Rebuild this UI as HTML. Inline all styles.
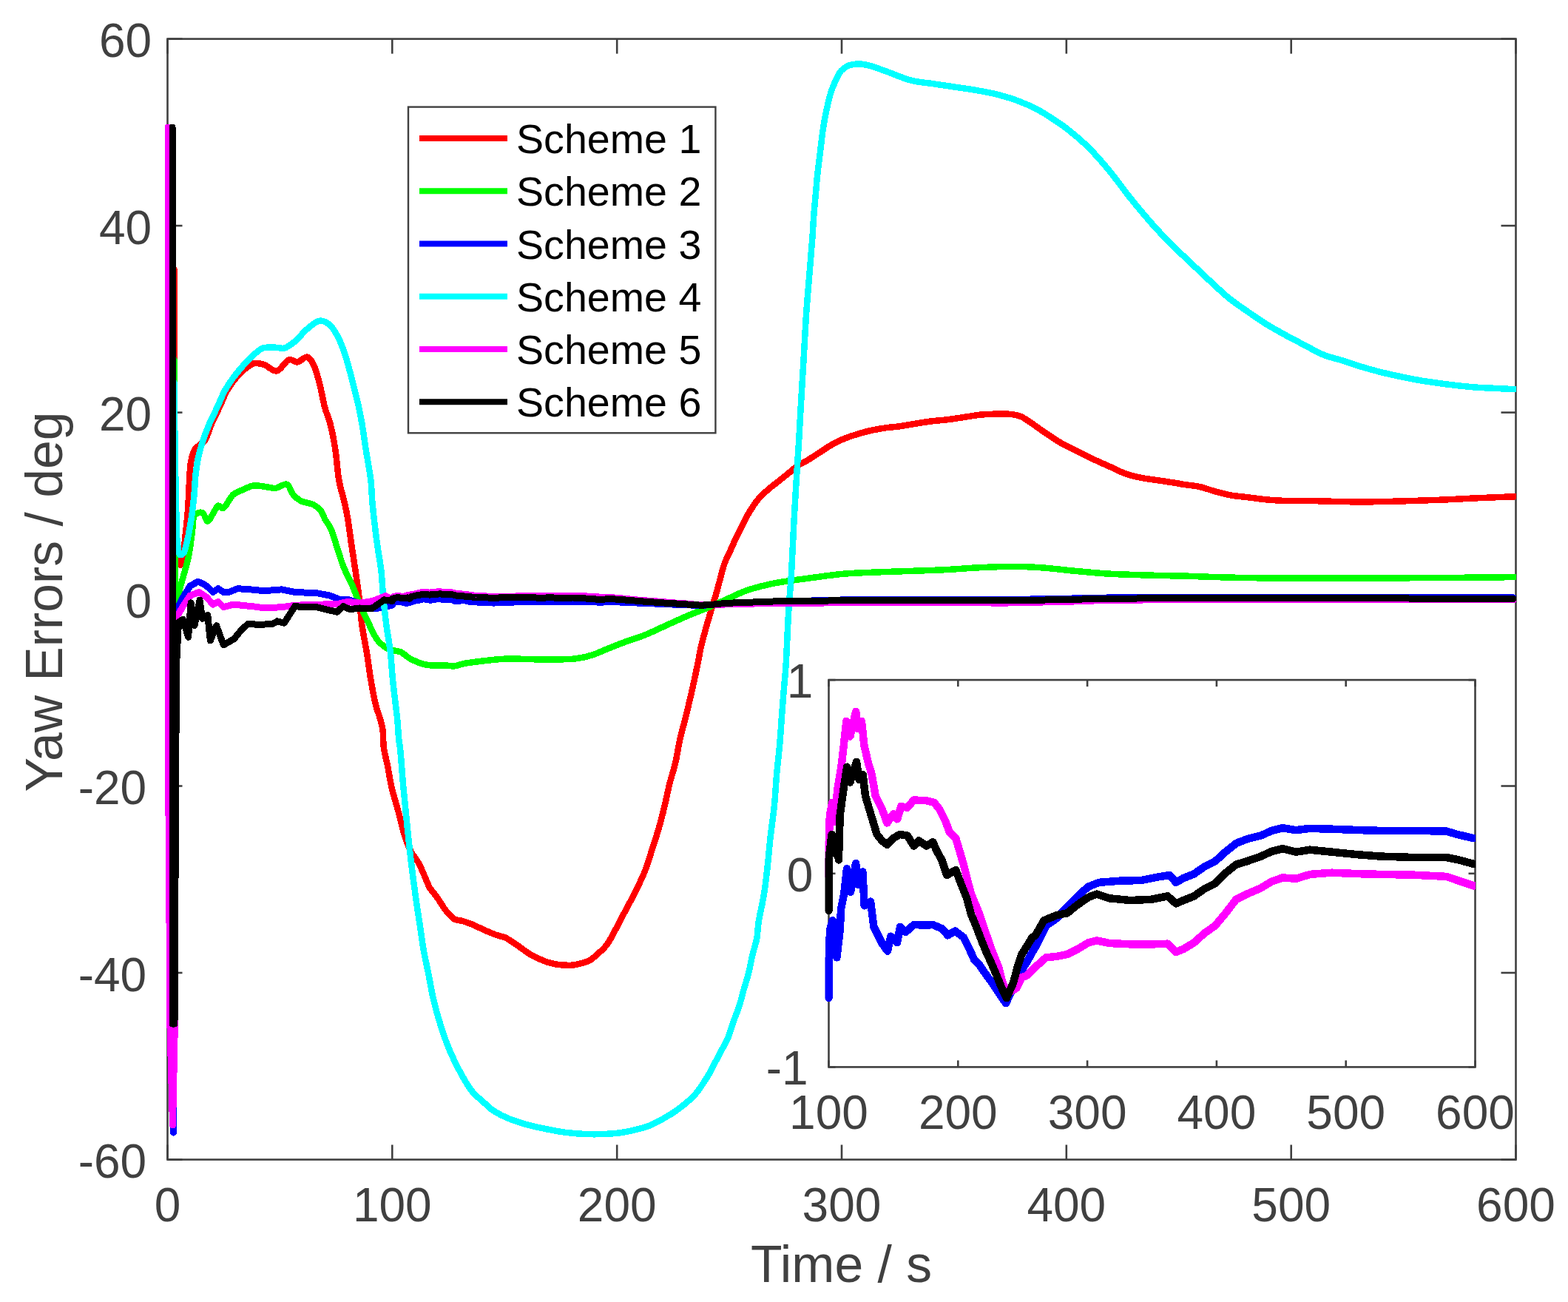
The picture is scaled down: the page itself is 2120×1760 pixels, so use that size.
<!DOCTYPE html>
<html><head><meta charset="utf-8"><title>Yaw Errors</title>
<style>html,body{margin:0;padding:0;background:#fff;}body{width:2120px;height:1760px;overflow:hidden;}svg{display:block;}</style>
</head><body>
<svg width="2120" height="1760" viewBox="0 0 2120 1760">
<rect x="0" y="0" width="2120" height="1760" fill="#fff"/>
<defs><clipPath id="cm"><rect x="220.5" y="46.6" width="1829.5" height="1526.9"/></clipPath><clipPath id="ci"><rect x="1115.5" y="914.1" width="879.5" height="533.3000000000001"/></clipPath></defs>
<g stroke="#404040" stroke-width="2.6" fill="none">
<rect x="226.5" y="52.6" width="1823.0" height="1514.9"/>
<line x1="226.5" y1="1567.5" x2="226.5" y2="1547.5"/>
<line x1="226.5" y1="52.6" x2="226.5" y2="72.6"/>
<line x1="530.3" y1="1567.5" x2="530.3" y2="1547.5"/>
<line x1="530.3" y1="52.6" x2="530.3" y2="72.6"/>
<line x1="834.2" y1="1567.5" x2="834.2" y2="1547.5"/>
<line x1="834.2" y1="52.6" x2="834.2" y2="72.6"/>
<line x1="1138.0" y1="1567.5" x2="1138.0" y2="1547.5"/>
<line x1="1138.0" y1="52.6" x2="1138.0" y2="72.6"/>
<line x1="1441.8" y1="1567.5" x2="1441.8" y2="1547.5"/>
<line x1="1441.8" y1="52.6" x2="1441.8" y2="72.6"/>
<line x1="1745.7" y1="1567.5" x2="1745.7" y2="1547.5"/>
<line x1="1745.7" y1="52.6" x2="1745.7" y2="72.6"/>
<line x1="2049.5" y1="1567.5" x2="2049.5" y2="1547.5"/>
<line x1="2049.5" y1="52.6" x2="2049.5" y2="72.6"/>
<line x1="226.5" y1="1567.5" x2="246.5" y2="1567.5"/>
<line x1="2049.5" y1="1567.5" x2="2029.5" y2="1567.5"/>
<line x1="226.5" y1="1315.0" x2="246.5" y2="1315.0"/>
<line x1="2049.5" y1="1315.0" x2="2029.5" y2="1315.0"/>
<line x1="226.5" y1="1062.5" x2="246.5" y2="1062.5"/>
<line x1="2049.5" y1="1062.5" x2="2029.5" y2="1062.5"/>
<line x1="226.5" y1="810.1" x2="246.5" y2="810.1"/>
<line x1="2049.5" y1="810.1" x2="2029.5" y2="810.1"/>
<line x1="226.5" y1="557.6" x2="246.5" y2="557.6"/>
<line x1="2049.5" y1="557.6" x2="2029.5" y2="557.6"/>
<line x1="226.5" y1="305.1" x2="246.5" y2="305.1"/>
<line x1="2049.5" y1="305.1" x2="2029.5" y2="305.1"/>
<line x1="226.5" y1="52.6" x2="246.5" y2="52.6"/>
<line x1="2049.5" y1="52.6" x2="2029.5" y2="52.6"/>
</g>
<g clip-path="url(#cm)">
<path d="M235.5,364.0 C235.7,442.7 235.5,534.5 236.0,600.0 C236.3,646.7 236.3,692.8 237.5,720.0 C238.1,734.1 238.4,744.0 240.0,752.0 C241.0,757.0 242.8,764.0 244.0,764.0 C245.1,764.0 246.1,758.8 247.0,755.0 C248.4,748.6 249.0,738.4 250.1,728.7 C251.4,716.7 253.2,701.2 254.1,688.5 C254.9,677.2 255.0,667.1 255.7,656.4 C256.4,645.7 256.5,633.1 258.1,624.3 C259.3,617.9 260.8,611.9 263.0,608.2 C264.4,605.8 266.0,604.9 268.0,603.0 C270.6,600.6 274.5,598.7 277.2,595.0 C280.9,589.8 282.7,580.5 285.9,573.2 C289.2,565.6 293.2,557.9 296.8,550.3 C300.4,542.7 303.0,534.7 307.3,527.4 C311.7,519.9 317.9,511.6 323.1,506.0 C327.1,501.7 331.3,498.6 335.0,496.0 C337.8,494.0 339.8,491.9 343.0,491.2 C346.9,490.4 352.1,491.5 356.8,492.9 C362.4,494.6 368.5,502.2 374.0,501.5 C380.0,500.7 385.9,487.2 391.2,486.1 C394.9,485.3 398.0,489.8 401.6,489.5 C405.9,489.2 411.5,481.8 415.3,482.6 C418.8,483.3 421.4,488.3 423.9,492.9 C427.6,499.6 430.0,511.0 432.5,520.5 C435.2,530.5 436.8,542.3 439.4,551.5 C441.5,559.1 444.2,564.3 446.3,572.1 C448.9,582.0 451.3,594.3 453.2,606.5 C455.4,620.0 456.0,636.5 458.4,649.6 C460.4,660.7 463.8,670.9 465.9,680.0 C467.6,687.3 468.7,692.4 470.0,700.0 C471.7,710.0 473.3,723.2 475.0,735.0 C476.8,747.1 478.8,759.5 480.6,771.7 C482.4,783.9 484.2,796.2 485.7,808.4 C487.2,820.6 487.7,832.9 489.4,845.1 C491.1,857.4 493.8,869.6 495.8,881.8 C497.8,894.0 499.2,906.3 501.3,918.5 C503.4,930.8 506.3,946.4 508.6,955.2 C509.9,960.3 511.2,962.6 512.5,967.0 C514.1,972.3 516.1,978.4 517.2,985.0 C518.5,992.9 517.8,1003.1 519.0,1011.6 C520.1,1019.7 522.4,1026.8 524.0,1035.0 C525.8,1044.0 527.0,1053.5 529.3,1063.3 C531.8,1074.3 535.6,1086.2 538.7,1097.7 C541.8,1109.2 544.6,1122.3 547.9,1132.1 C550.5,1139.7 552.8,1146.0 556.0,1152.0 C558.9,1157.4 562.6,1160.4 566.0,1166.5 C571.0,1175.4 578.5,1196.3 581.4,1201.0 C582.2,1202.4 582.5,1202.3 583.4,1203.4 C585.2,1205.6 588.6,1209.8 591.4,1213.7 C595.0,1218.6 598.8,1225.9 602.9,1230.9 C606.5,1235.3 610.1,1240.0 614.3,1242.3 C617.8,1244.3 621.9,1244.0 625.7,1245.1 C629.5,1246.2 633.3,1247.6 637.1,1249.1 C641.0,1250.6 644.8,1252.6 648.6,1254.3 C652.4,1256.0 656.2,1257.8 660.0,1259.4 C663.8,1261.0 667.6,1262.7 671.4,1264.0 C675.2,1265.3 679.2,1265.8 682.9,1267.4 C686.8,1269.1 690.5,1271.8 694.3,1274.3 C698.1,1276.8 701.9,1279.6 705.7,1282.3 C709.5,1285.0 713.2,1288.0 717.1,1290.3 C720.8,1292.5 724.7,1294.3 728.6,1296.0 C732.4,1297.7 736.2,1299.4 740.0,1300.6 C743.8,1301.8 747.6,1302.7 751.4,1303.4 C755.2,1304.1 759.1,1304.4 762.9,1304.6 C766.7,1304.8 770.5,1305.0 774.3,1304.6 C778.1,1304.2 781.9,1303.3 785.7,1302.3 C789.5,1301.2 793.5,1300.3 797.1,1298.3 C801.1,1296.1 804.9,1292.4 808.6,1289.1 C812.5,1285.6 816.5,1282.2 820.0,1277.7 C823.9,1272.7 826.9,1266.2 830.4,1260.0 C834.1,1253.2 837.5,1246.3 841.6,1238.6 C846.4,1229.5 852.3,1218.8 857.3,1208.8 C862.2,1198.9 867.3,1189.0 871.4,1178.9 C875.4,1169.1 878.2,1159.0 881.4,1149.1 C884.6,1139.2 887.9,1129.3 890.8,1119.3 C893.7,1109.4 896.2,1099.5 898.6,1089.5 C901.0,1079.6 902.8,1069.5 905.3,1059.6 C907.8,1049.6 911.2,1039.8 913.5,1029.8 C915.8,1019.9 917.0,1009.9 919.2,1000.0 C921.4,990.0 924.2,980.7 926.8,970.2 C929.7,958.6 932.8,945.8 935.6,933.5 C938.4,921.3 941.2,907.7 943.5,896.7 C945.3,887.7 946.2,881.2 948.3,872.2 C950.9,861.1 954.9,847.6 958.4,835.4 C961.9,823.1 965.9,811.0 969.4,798.7 C972.9,786.5 975.9,772.1 979.5,762.0 C982.2,754.5 985.2,749.2 988.0,743.0 C990.7,737.0 993.7,730.1 996.0,725.3 C997.6,722.0 998.6,720.4 1000.3,717.0 C1003.0,711.7 1006.8,703.2 1010.7,696.4 C1014.8,689.4 1019.5,681.7 1024.4,675.7 C1028.7,670.4 1033.5,666.2 1038.2,662.0 C1042.7,658.0 1047.4,654.7 1052.0,651.0 C1056.6,647.3 1061.1,643.7 1065.7,640.0 C1070.3,636.3 1074.8,632.1 1079.5,628.9 C1084.0,625.9 1088.8,624.0 1093.3,621.3 C1097.9,618.5 1101.7,615.7 1107.0,612.4 C1114.2,607.9 1123.2,601.2 1132.8,596.7 C1143.7,591.5 1158.0,587.0 1169.5,583.9 C1179.3,581.2 1188.8,579.7 1197.1,578.4 C1203.9,577.4 1209.3,577.3 1215.7,576.4 C1222.7,575.4 1230.3,573.9 1237.6,572.7 C1244.9,571.5 1252.2,570.3 1259.5,569.4 C1266.8,568.5 1274.1,568.1 1281.4,567.2 C1288.7,566.3 1296.0,565.1 1303.3,564.0 C1310.6,562.9 1317.9,561.4 1325.2,560.7 C1332.5,560.0 1339.9,559.7 1347.2,559.6 C1354.5,559.5 1363.1,559.4 1369.1,560.2 C1373.4,560.8 1376.5,561.5 1380.0,562.9 C1383.8,564.4 1386.8,566.7 1391.0,569.4 C1397.1,573.4 1405.6,579.8 1412.9,584.8 C1420.2,589.7 1427.4,594.7 1434.8,599.0 C1442.0,603.1 1449.4,606.3 1456.7,610.0 C1464.0,613.6 1471.3,617.4 1478.6,620.9 C1485.9,624.4 1493.2,627.5 1500.5,630.8 C1507.8,634.1 1515.0,638.0 1522.4,640.6 C1529.6,643.1 1537.0,644.6 1544.3,646.1 C1551.6,647.6 1558.9,648.3 1566.2,649.4 C1573.5,650.5 1581.9,651.7 1588.1,652.7 C1592.7,653.4 1595.4,654.1 1600.0,654.8 C1606.2,655.8 1614.7,656.4 1621.9,658.0 C1629.3,659.6 1636.5,662.6 1643.8,664.6 C1651.1,666.5 1658.4,668.4 1665.7,669.7 C1673.0,671.0 1680.3,671.4 1687.6,672.3 C1694.9,673.2 1702.2,674.4 1709.5,675.1 C1716.8,675.8 1722.8,676.3 1731.4,676.7 C1743.5,677.2 1760.6,676.9 1775.2,677.1 C1789.8,677.4 1804.5,678.0 1819.1,678.2 C1833.7,678.4 1848.3,678.4 1862.9,678.2 C1877.5,678.0 1892.1,677.5 1906.7,677.1 C1921.3,676.7 1935.9,676.2 1950.5,675.6 C1965.1,675.0 1978.9,674.1 1994.3,673.4 C2011.5,672.6 2030.8,671.9 2049.1,671.2" fill="none" stroke="#ff0000" stroke-width="8.5" stroke-linejoin="round" stroke-linecap="round" shape-rendering="crispEdges"/>
<path d="M235.5,486.0 C235.7,557.3 235.5,642.1 236.0,700.0 C236.3,739.6 236.4,778.7 237.5,800.0 C238.0,810.0 238.7,822.0 239.5,822.0 C240.2,822.0 240.6,808.2 242.0,801.0 C243.5,793.2 246.3,784.9 248.5,776.9 C250.6,768.9 253.1,761.5 254.9,752.8 C256.9,742.9 258.3,730.6 259.7,720.6 C260.9,712.0 260.3,700.6 262.9,696.5 C264.2,694.5 266.0,693.8 267.8,693.3 C269.7,692.7 272.3,692.2 274.2,693.3 C276.9,694.9 278.2,704.5 280.6,704.6 C283.0,704.7 286.1,696.9 288.6,693.3 C290.9,690.0 292.6,684.3 295.1,683.7 C297.0,683.2 299.2,687.4 301.5,686.9 C305.6,685.9 310.3,672.8 315.5,668.5 C319.7,665.0 324.7,663.6 329.3,661.6 C333.8,659.6 338.1,657.1 343.0,656.5 C348.3,655.8 355.0,657.6 360.2,658.2 C364.6,658.7 368.1,660.3 372.3,659.9 C377.2,659.4 383.8,653.3 387.8,654.7 C391.8,656.1 393.1,664.7 396.4,668.5 C399.4,672.0 402.6,674.9 406.7,677.1 C411.5,679.7 419.2,679.8 423.9,682.3 C427.8,684.4 430.8,686.8 433.4,690.0 C436.3,693.5 437.6,698.9 440.0,703.0 C442.3,707.0 445.0,709.7 447.2,714.4 C450.4,721.1 452.9,731.6 455.8,740.2 C458.7,748.8 461.0,757.6 464.4,766.1 C467.9,774.8 472.7,783.2 476.5,791.9 C480.2,800.4 483.1,809.2 486.8,817.7 C490.5,826.4 494.7,835.3 498.8,843.5 C502.7,851.3 505.9,860.0 510.9,865.9 C515.3,871.1 520.9,875.3 526.4,877.9 C531.3,880.2 537.3,879.3 541.9,881.4 C546.4,883.4 549.1,887.4 553.9,890.0 C560.0,893.3 568.4,897.0 576.3,898.6 C584.5,900.3 595.1,899.1 602.1,899.5 C606.9,899.7 610.1,900.7 614.2,900.3 C618.7,899.9 622.6,897.9 627.9,896.9 C635.1,895.5 645.2,894.4 653.8,893.4 C662.4,892.4 671.5,891.2 679.6,890.8 C686.8,890.4 692.6,890.6 700.0,890.7 C708.7,890.8 719.1,891.3 728.6,891.4 C738.1,891.5 748.3,891.6 757.1,891.4 C764.8,891.2 771.5,891.2 778.6,890.3 C785.8,889.4 793.0,887.9 800.0,885.7 C807.2,883.5 814.3,879.9 821.4,877.1 C828.6,874.2 835.2,871.5 842.9,868.6 C851.7,865.3 862.0,862.4 871.4,858.6 C881.0,854.8 890.5,850.0 900.0,845.7 C909.5,841.4 919.0,837.0 928.6,832.9 C938.1,828.9 947.6,825.4 957.1,821.4 C966.7,817.3 976.7,812.6 985.7,808.6 C993.7,805.0 999.8,801.6 1008.4,798.6 C1018.9,794.9 1031.6,791.6 1044.6,788.9 C1059.4,785.8 1076.7,783.9 1092.8,781.7 C1108.9,779.5 1124.8,777.1 1141.0,775.7 C1157.2,774.3 1174.1,774.0 1190.0,773.3 C1205.0,772.7 1219.2,772.3 1233.8,771.8 C1248.4,771.3 1263.0,770.9 1277.6,770.2 C1292.2,769.5 1306.3,768.1 1321.4,767.4 C1337.6,766.6 1356.3,765.7 1371.8,765.8 C1385.2,765.9 1396.2,766.5 1409.1,767.4 C1423.1,768.4 1438.3,770.4 1452.9,771.8 C1467.5,773.1 1482.1,774.6 1496.7,775.5 C1511.3,776.4 1525.9,776.7 1540.5,777.2 C1555.1,777.7 1573.4,778.1 1584.3,778.3 C1590.8,778.4 1593.5,778.3 1600.0,778.5 C1610.9,778.8 1627.7,779.6 1643.8,780.1 C1663.5,780.7 1684.8,781.2 1709.5,781.4 C1741.4,781.7 1782.6,781.4 1819.1,781.4 C1855.6,781.4 1891.2,781.4 1928.6,781.2 C1967.8,781.0 2008.9,780.5 2049.1,780.1" fill="none" stroke="#00ff00" stroke-width="8.5" stroke-linejoin="round" stroke-linecap="round" shape-rendering="crispEdges"/>
<polyline points="234.0,840.0 234.5,1531.0 234.6,1400.0 235.8,900.0 239.1,823.1 247.4,807.6 257.0,792.1 267.7,786.2 276.0,789.8 282.0,794.5 287.9,800.5 295.0,795.7 302.2,800.5 309.3,800.5 321.2,795.7 339.1,796.9 357.0,798.7 380.8,796.9 398.6,800.5 428.4,801.7 446.2,805.2 458.1,810.0 470.0,810.0 476.0,812.4 486.8,816.0 507.5,822.9 524.7,819.4 530.3,818.2 530.3,815.9 533.1,813.7 539.4,813.1 549.3,815.5 556.8,813.7 559.2,812.4 566.7,811.3 572.9,809.7 581.6,811.3 594.0,809.4 599.0,810.8 610.1,809.9 613.9,812.2 628.7,811.9 636.2,813.5 646.1,814.1 656.2,814.6 668.5,815.1 676.0,814.1 690.9,814.6 698.2,813.5 710.8,813.9 730.6,813.4 760.5,813.4 775.2,813.4 797.7,813.7 810.0,814.1 827.4,813.8 847.4,814.2 859.7,814.9 872.1,815.7 884.6,816.0 899.5,816.6 914.3,817.2 929.2,817.8 939.2,818.2 946.6,818.5 964.0,817.5 983.8,816.4 996.3,815.8 1008.7,815.2 1016.2,814.8 1041.0,813.5 1065.9,813.0 1090.7,812.2 1115.4,811.5 1140.3,810.9 1165.1,810.6 1214.8,810.5 1264.5,810.5 1301.7,810.3 1331.5,810.2 1346.4,810.6 1363.8,810.4 1388.6,810.1 1413.5,809.6 1438.4,809.3 1463.0,808.6 1487.9,808.1 1512.8,807.8 1546.0,807.6 1571.5,807.3 1597.2,807.1 1628.0,807.2 1661.4,807.1 1712.6,807.2 1776.8,807.2 1828.1,807.3 1905.1,807.3 1982.1,807.3 2007.8,807.5 2046.2,807.8" fill="none" stroke="#0000ff" stroke-width="9" stroke-linejoin="round" stroke-linecap="round" shape-rendering="crispEdges"/>
<path d="M235.5,517.0 C235.8,544.7 236.1,572.6 236.5,600.0 C236.9,626.9 237.3,655.8 238.0,680.0 C238.6,700.0 238.3,722.5 240.0,735.0 C240.9,741.6 241.4,748.9 243.5,750.0 C244.7,750.6 246.8,749.4 248.0,748.0 C249.9,745.9 250.4,741.5 251.7,736.7 C253.8,728.8 256.3,715.5 258.1,704.6 C259.9,693.3 261.3,680.9 262.4,670.0 C263.4,660.2 263.5,650.8 264.5,642.0 C265.4,634.0 266.3,626.7 267.9,619.1 C269.5,611.4 271.7,603.8 274.2,596.2 C276.7,588.5 279.7,580.8 282.9,573.2 C286.2,565.5 290.2,557.9 293.8,550.3 C297.4,542.7 300.1,534.9 304.3,527.4 C308.8,519.5 314.2,511.9 320.1,504.4 C326.3,496.5 336.1,486.1 340.8,481.5 C343.0,479.3 344.0,478.6 346.0,477.0 C348.6,475.0 351.4,471.9 355.1,470.6 C359.7,469.0 367.1,469.6 372.3,469.7 C376.7,469.7 380.3,471.6 384.3,470.6 C388.9,469.5 393.5,465.7 398.1,462.0 C403.8,457.5 409.3,449.7 415.3,444.8 C420.8,440.3 427.0,434.1 432.5,433.6 C437.2,433.2 442.3,436.2 446.3,439.6 C451.2,443.8 455.0,451.7 458.4,458.5 C461.9,465.5 464.3,472.8 467.0,480.9 C470.1,490.3 472.8,501.3 475.6,511.9 C478.5,523.1 481.8,535.6 484.2,546.3 C486.3,555.5 487.7,562.9 489.3,572.1 C491.2,582.7 492.6,594.4 494.5,606.5 C496.6,620.1 499.9,636.5 501.4,649.6 C502.7,660.6 502.4,668.4 503.5,680.0 C505.0,695.7 507.7,718.5 509.9,735.0 C511.7,748.5 514.0,759.4 515.4,771.7 C516.8,783.9 517.1,796.2 518.3,808.4 C519.5,820.6 520.8,832.9 522.4,845.1 C524.0,857.3 526.5,869.5 527.9,881.8 C529.3,894.0 529.8,906.3 531.0,918.5 C532.2,930.7 534.0,944.8 535.2,955.2 C536.1,962.8 536.8,968.0 537.5,975.0 C538.2,982.8 538.6,993.3 539.3,1000.0 C539.8,1004.6 540.4,1006.3 541.0,1011.6 C542.3,1022.7 543.7,1046.1 545.3,1063.3 C546.9,1080.5 548.6,1097.7 550.4,1114.9 C552.2,1132.1 553.9,1149.3 556.0,1166.5 C558.1,1183.7 560.7,1203.1 562.8,1218.2 C564.5,1230.1 566.0,1239.2 567.6,1250.0 C569.3,1261.1 570.7,1272.6 572.7,1283.9 C574.7,1295.2 577.3,1306.4 579.5,1317.7 C581.8,1329.0 583.5,1340.4 586.2,1351.6 C588.9,1363.0 592.0,1374.3 595.6,1385.5 C599.2,1396.8 603.0,1408.2 607.7,1419.3 C612.5,1430.7 618.5,1443.0 624.3,1453.2 C629.3,1462.1 634.7,1471.1 640.0,1477.4 C644.1,1482.2 648.3,1484.9 652.4,1488.6 C656.5,1492.3 660.5,1496.5 664.8,1499.7 C668.8,1502.6 672.9,1504.9 677.1,1507.1 C681.2,1509.2 685.3,1511.0 689.5,1512.7 C693.6,1514.3 697.8,1515.6 701.9,1517.0 C706.0,1518.3 709.4,1519.5 714.3,1520.8 C721.1,1522.6 730.7,1524.6 739.0,1526.3 C747.2,1527.9 755.5,1529.6 763.8,1530.7 C772.0,1531.8 780.3,1532.5 788.6,1532.9 C796.8,1533.3 805.1,1533.4 813.3,1533.1 C821.6,1532.8 830.1,1532.4 838.1,1531.3 C845.7,1530.3 853.2,1528.6 860.0,1527.0 C866.0,1525.6 871.5,1524.1 876.7,1522.2 C881.5,1520.4 885.9,1518.1 890.0,1516.0 C893.6,1514.1 896.4,1512.3 900.0,1510.2 C904.2,1507.7 908.7,1505.3 913.4,1502.0 C919.2,1498.0 926.8,1491.8 931.8,1487.3 C935.5,1484.0 938.1,1481.6 941.0,1478.1 C944.2,1474.3 947.2,1469.8 950.2,1465.3 C953.3,1460.6 956.3,1455.8 959.3,1450.6 C962.5,1445.1 965.4,1438.9 968.5,1433.1 C971.6,1427.3 974.8,1421.3 977.7,1415.7 C980.3,1410.6 982.9,1406.2 985.0,1401.0 C987.2,1395.5 988.5,1389.7 990.7,1383.5 C993.2,1376.4 996.8,1368.3 999.3,1360.6 C1001.8,1353.0 1003.4,1345.3 1005.6,1337.7 C1007.8,1330.0 1010.4,1322.4 1012.3,1314.7 C1014.2,1307.1 1015.3,1299.4 1017.1,1291.8 C1018.9,1284.1 1021.8,1276.5 1023.2,1268.8 C1024.6,1261.2 1024.5,1253.5 1025.7,1245.9 C1026.9,1238.2 1028.9,1230.1 1030.3,1222.9 C1031.5,1216.6 1032.5,1211.7 1033.5,1205.0 C1034.8,1196.3 1036.1,1185.9 1037.3,1175.0 C1038.8,1162.0 1040.0,1146.3 1041.6,1132.0 C1043.2,1117.7 1045.5,1103.3 1046.9,1089.0 C1048.3,1074.7 1048.9,1060.3 1050.2,1046.0 C1051.5,1031.7 1053.3,1017.3 1054.5,1003.0 C1055.7,988.7 1056.6,973.0 1057.6,960.0 C1058.4,949.1 1059.2,940.0 1060.0,930.0 C1060.8,920.0 1061.7,912.3 1062.5,900.0 C1063.8,880.7 1064.9,847.3 1066.3,825.1 C1067.4,807.3 1068.8,794.6 1069.9,776.9 C1071.2,755.2 1072.2,728.7 1073.5,704.6 C1074.8,680.4 1076.5,652.2 1077.8,632.0 C1078.7,617.6 1079.4,608.6 1080.2,595.0 C1081.2,578.5 1082.2,558.3 1083.3,540.0 C1084.4,521.7 1085.5,503.3 1086.6,485.0 C1087.7,466.7 1088.5,448.3 1089.7,430.0 C1090.9,411.7 1092.5,393.3 1094.0,375.0 C1095.5,356.7 1097.4,335.0 1098.5,320.0 C1099.2,309.7 1099.4,302.9 1100.1,293.9 C1100.8,284.3 1101.8,274.0 1102.7,264.0 C1103.6,254.1 1104.3,244.1 1105.4,234.2 C1106.5,224.2 1107.9,214.3 1109.1,204.3 C1110.3,194.4 1111.3,184.4 1112.8,174.5 C1114.4,164.5 1116.3,153.8 1118.4,144.6 C1120.2,136.6 1122.0,128.8 1124.3,122.2 C1126.2,116.6 1128.4,111.9 1130.7,107.3 C1132.8,103.0 1134.6,98.6 1137.5,95.4 C1140.2,92.5 1143.6,90.2 1147.2,88.7 C1150.8,87.2 1155.0,86.6 1159.1,86.4 C1163.4,86.2 1168.2,87.0 1172.5,87.9 C1176.7,88.8 1180.3,90.2 1184.5,91.6 C1189.2,93.2 1193.5,94.8 1199.4,96.9 C1208.2,100.1 1221.4,106.1 1232.1,108.8 C1241.9,111.3 1251.2,111.7 1260.8,113.1 C1270.4,114.5 1279.9,116.0 1289.5,117.4 C1299.1,118.8 1308.7,120.0 1318.2,121.7 C1327.8,123.4 1337.4,125.0 1346.9,127.4 C1356.5,129.8 1366.1,132.5 1375.5,136.0 C1385.2,139.6 1395.3,144.1 1404.2,148.9 C1412.5,153.3 1420.7,159.0 1427.2,163.3 C1432.1,166.5 1435.0,168.2 1440.0,172.1 C1447.9,178.2 1460.0,188.0 1469.5,197.2 C1479.7,207.0 1489.4,218.2 1499.0,229.7 C1509.1,241.8 1518.4,255.5 1528.6,268.1 C1538.8,280.7 1549.9,294.1 1560.0,305.3 C1568.7,315.0 1576.8,323.3 1585.3,331.8 C1593.6,340.1 1602.1,347.8 1610.5,355.8 C1618.9,363.8 1627.3,371.9 1635.8,379.7 C1644.2,387.4 1652.4,395.5 1661.0,402.5 C1669.2,409.2 1677.8,414.9 1686.3,420.8 C1694.7,426.6 1703.0,432.5 1711.5,437.8 C1719.8,443.0 1728.3,447.6 1736.8,452.3 C1745.2,456.9 1753.4,461.1 1762.0,465.6 C1771.1,470.3 1780.7,476.2 1790.0,479.9 C1798.6,483.3 1807.1,484.9 1815.7,487.6 C1824.3,490.3 1832.8,493.4 1841.4,496.0 C1849.9,498.6 1858.5,500.9 1867.1,503.1 C1875.7,505.2 1884.3,507.1 1892.9,508.9 C1901.5,510.7 1910.0,512.5 1918.6,514.0 C1927.1,515.5 1935.7,516.7 1944.3,517.9 C1952.9,519.1 1961.4,520.1 1970.0,521.1 C1978.6,522.0 1987.1,523.0 1995.7,523.6 C2004.3,524.2 2012.7,524.5 2021.4,524.9 C2030.3,525.3 2039.4,525.8 2048.4,526.2" fill="none" stroke="#00ffff" stroke-width="8.5" stroke-linejoin="round" stroke-linecap="round" shape-rendering="crispEdges"/>
<polyline points="227.0,172.0 227.5,1030.0 230.0,1390.0 233.5,1521.0 236.5,1380.0 237.5,1000.0 238.0,900.0 239.1,833.8 247.4,819.5 257.0,805.2 268.9,800.5 279.6,807.6 287.9,817.1 295.0,813.6 302.2,820.7 315.3,817.1 327.2,818.3 345.0,820.1 357.0,821.9 380.8,820.7 398.6,818.3 428.4,817.1 455.8,816.8 469.6,813.4 486.8,815.1 504.0,812.5 521.2,805.6 530.3,810.3 530.3,808.3 532.8,806.3 538.7,805.4 544.8,806.7 550.7,804.6 559.7,803.1 565.6,801.7 571.7,800.1 580.6,801.1 594.1,799.5 598.6,800.6 607.5,800.1 613.6,801.7 622.5,802.8 631.5,803.6 640.4,805.0 655.5,805.8 667.3,806.8 682.3,806.2 691.3,806.5 700.3,805.7 715.3,805.8 730.2,805.3 760.1,805.3 778.0,805.4 790.0,805.8 805.0,806.7 814.0,807.3 829.0,807.8 837.8,808.6 848.4,809.6 864.1,811.3 884.6,812.7 899.5,813.9 914.3,815.1 929.2,816.1 939.2,817.2 950.1,817.9 971.5,817.5 983.8,816.8 996.3,816.7 1008.7,816.4 1016.2,816.1 1041.0,815.5 1065.9,815.5 1090.7,815.3 1115.4,815.0 1140.3,814.6 1160.2,814.4 1190.0,814.6 1239.7,814.7 1289.2,814.7 1326.6,814.6 1346.4,815.2 1363.8,815.0 1388.6,814.6 1413.5,813.9 1438.4,813.5 1463.0,812.6 1487.9,811.7 1512.8,811.4 1546.0,811.0 1571.5,810.6 1597.2,810.3 1628.0,810.4 1661.4,810.1 1712.6,810.0 1776.8,810.1 1828.1,810.1 1905.1,810.1 1982.1,810.3 2007.8,810.5 2046.2,810.9" fill="none" stroke="#ff00ff" stroke-width="9" stroke-linejoin="round" stroke-linecap="round" shape-rendering="crispEdges"/>
<polyline points="233.0,172.0 233.0,1384.0 236.0,1384.0 238.5,900.0 241.5,841.0 247.4,837.4 254.6,861.2 258.1,814.8 262.9,845.7 270.0,811.2 273.6,836.2 280.8,831.4 284.3,866.0 292.7,845.7 302.2,871.9 316.5,863.6 327.2,850.5 335.5,843.3 351.0,844.5 368.9,843.3 374.8,839.8 384.3,842.1 392.7,829.0 398.6,819.5 410.5,820.7 428.4,820.7 443.8,824.6 455.8,827.2 464.1,819.5 473.0,823.7 486.8,822.0 502.3,822.9 519.5,810.8 530.3,812.5 530.3,809.2 537.3,807.5 544.8,808.7 550.7,807.9 553.6,809.2 556.8,806.3 562.7,805.0 573.1,803.1 580.6,804.1 595.5,802.8 601.6,803.9 610.5,803.6 616.5,805.0 625.4,805.8 634.5,806.7 643.5,807.5 655.5,807.9 667.3,808.2 682.3,807.8 697.2,807.5 715.3,807.6 730.2,808.2 742.2,807.9 760.1,808.2 775.1,808.0 784.1,808.6 795.9,809.2 807.9,810.2 829.0,809.8 839.9,810.6 854.7,811.7 864.8,812.7 877.1,813.5 889.4,814.4 899.5,815.1 914.3,816.0 926.8,816.8 939.2,817.7 948.4,818.2 964.0,817.2 973.9,816.1 983.8,815.3 996.3,814.8 1008.7,814.2 1016.2,814.1 1036.0,813.1 1065.9,812.8 1090.7,812.6 1115.4,812.1 1140.3,811.6 1160.2,811.4 1190.0,811.7 1239.7,811.8 1289.2,811.7 1326.6,811.5 1346.4,812.0 1363.8,811.8 1388.6,811.5 1413.5,811.0 1438.4,810.7 1463.0,810.0 1487.9,809.5 1512.8,809.3 1546.0,808.9 1571.5,808.6 1597.2,808.4 1628.0,808.6 1661.4,808.5 1712.6,808.6 1776.8,808.8 1828.1,808.9 1905.1,809.0 1982.1,809.0 2007.8,809.1 2046.2,809.4" fill="none" stroke="#000000" stroke-width="9" stroke-linejoin="round" stroke-linecap="round" shape-rendering="crispEdges"/>
</g>
<g fill="#404040" style="font-family:'Liberation Sans',Arial,Helvetica,sans-serif;font-size:64px">
<text x="226.5" y="1651" text-anchor="middle">0</text>
<text x="530.3" y="1651" text-anchor="middle">100</text>
<text x="834.2" y="1651" text-anchor="middle">200</text>
<text x="1138.0" y="1651" text-anchor="middle">300</text>
<text x="1441.8" y="1651" text-anchor="middle">400</text>
<text x="1745.7" y="1651" text-anchor="middle">500</text>
<text x="2049.5" y="1651" text-anchor="middle">600</text>
<text x="198.2" y="1592.1" text-anchor="end">-60</text>
<text x="198.2" y="1339.6" text-anchor="end">-40</text>
<text x="198.2" y="1087.1" text-anchor="end">-20</text>
<text x="205.2" y="834.7" text-anchor="end">0</text>
<text x="205.2" y="582.2" text-anchor="end">20</text>
<text x="205.2" y="329.7" text-anchor="end">40</text>
<text x="205.2" y="77.2" text-anchor="end">60</text>
</g>
<text x="1137.5" y="1732.5" text-anchor="middle" fill="#404040" style="font-family:'Liberation Sans',Arial,Helvetica,sans-serif;font-size:69.7px">Time / s</text>
<text transform="translate(83.5,813.5) rotate(-90)" text-anchor="middle" fill="#404040" style="font-family:'Liberation Sans',Arial,Helvetica,sans-serif;font-size:69.7px">Yaw Errors / deg</text>
<rect x="1120.5" y="919.1" width="874.0" height="523.3000000000001" fill="#fff"/>
<g stroke="#404040" stroke-width="2.6" fill="none">
<rect x="1120.5" y="919.1" width="874.0" height="523.3000000000001"/>
<line x1="1120.5" y1="1442.4" x2="1120.5" y2="1433.4"/>
<line x1="1120.5" y1="919.1" x2="1120.5" y2="928.1"/>
<line x1="1295.3" y1="1442.4" x2="1295.3" y2="1433.4"/>
<line x1="1295.3" y1="919.1" x2="1295.3" y2="928.1"/>
<line x1="1470.1" y1="1442.4" x2="1470.1" y2="1433.4"/>
<line x1="1470.1" y1="919.1" x2="1470.1" y2="928.1"/>
<line x1="1644.9" y1="1442.4" x2="1644.9" y2="1433.4"/>
<line x1="1644.9" y1="919.1" x2="1644.9" y2="928.1"/>
<line x1="1819.7" y1="1442.4" x2="1819.7" y2="1433.4"/>
<line x1="1819.7" y1="919.1" x2="1819.7" y2="928.1"/>
<line x1="1994.5" y1="1442.4" x2="1994.5" y2="1433.4"/>
<line x1="1994.5" y1="919.1" x2="1994.5" y2="928.1"/>
<line x1="1120.5" y1="1442.4" x2="1129.5" y2="1442.4"/>
<line x1="1994.5" y1="1442.4" x2="1985.5" y2="1442.4"/>
<line x1="1120.5" y1="1180.8" x2="1129.5" y2="1180.8"/>
<line x1="1994.5" y1="1180.8" x2="1985.5" y2="1180.8"/>
<line x1="1120.5" y1="919.1" x2="1129.5" y2="919.1"/>
<line x1="1994.5" y1="919.1" x2="1985.5" y2="919.1"/>
</g>
<g clip-path="url(#ci)">
<polyline points="1120.5,1349.0 1120.5,1301.0 1122.1,1257.1 1125.7,1244.3 1131.4,1294.3 1135.7,1257.1 1137.1,1228.6 1141.4,1207.1 1145.0,1174.3 1150.0,1205.7 1157.1,1167.1 1160.0,1195.7 1166.4,1178.6 1168.6,1224.3 1177.1,1218.6 1181.4,1252.9 1187.1,1264.3 1192.9,1275.7 1200.0,1285.7 1204.3,1265.7 1212.9,1274.3 1217.1,1252.9 1224.3,1260.0 1235.7,1250.0 1252.9,1250.7 1261.4,1250.0 1274.3,1255.7 1281.4,1264.3 1291.4,1258.6 1302.9,1267.1 1310.0,1281.4 1317.1,1297.1 1324.3,1304.3 1332.9,1317.1 1341.4,1328.6 1350.0,1341.4 1355.7,1350.0 1360.0,1356.0 1370.0,1335.0 1381.4,1311.4 1388.6,1300.0 1395.7,1287.1 1400.0,1280.0 1414.3,1251.4 1428.6,1241.4 1442.9,1225.7 1457.1,1211.4 1471.4,1198.6 1485.7,1192.9 1514.3,1190.7 1542.9,1190.0 1564.3,1185.7 1581.4,1182.9 1590.0,1192.9 1600.0,1187.1 1614.3,1181.4 1628.6,1171.4 1642.9,1164.3 1657.1,1151.4 1671.4,1140.0 1685.7,1134.3 1704.8,1129.5 1719.5,1122.9 1734.3,1119.2 1752.0,1122.1 1771.2,1119.9 1800.7,1120.7 1837.6,1122.1 1867.1,1122.9 1911.4,1122.9 1955.7,1123.6 1970.5,1128.0 1992.6,1133.2" fill="none" stroke="#0000ff" stroke-width="10.5" stroke-linejoin="round" stroke-linecap="round" shape-rendering="crispEdges"/>
<polyline points="1120.5,1185.0 1120.5,1145.0 1121.9,1102.1 1125.3,1084.9 1128.8,1110.7 1132.2,1067.7 1137.4,1036.7 1140.8,1007.5 1144.3,974.8 1149.4,995.4 1157.2,961.8 1159.8,985.1 1164.9,974.8 1168.4,1007.5 1173.5,1029.8 1178.7,1047.0 1183.8,1076.3 1192.5,1093.5 1199.3,1112.4 1207.9,1100.4 1213.1,1107.3 1218.3,1090.1 1226.9,1091.8 1235.5,1081.5 1252.7,1082.3 1263.0,1084.9 1269.9,1093.5 1278.5,1110.7 1283.7,1124.5 1292.3,1133.1 1297.4,1150.3 1303.5,1171.2 1312.5,1207.0 1324.3,1235.7 1332.9,1261.4 1341.4,1285.7 1350.0,1307.1 1355.7,1328.6 1362.0,1343.0 1374.3,1335.7 1381.4,1321.4 1388.6,1318.6 1395.7,1311.4 1400.0,1307.1 1414.3,1294.3 1428.6,1292.9 1442.9,1290.0 1457.1,1282.9 1471.4,1274.3 1482.9,1271.4 1500.0,1275.0 1528.6,1276.4 1557.1,1276.4 1578.6,1275.7 1590.0,1287.1 1600.0,1282.9 1614.3,1274.3 1628.6,1261.4 1642.9,1251.4 1657.1,1234.3 1671.4,1215.7 1685.7,1208.6 1704.8,1200.4 1719.5,1191.5 1734.3,1186.4 1752.0,1187.8 1771.2,1181.9 1800.7,1179.7 1837.6,1181.2 1867.1,1181.9 1911.4,1182.7 1955.7,1184.9 1970.5,1190.0 1992.6,1197.4" fill="none" stroke="#ff00ff" stroke-width="10.5" stroke-linejoin="round" stroke-linecap="round" shape-rendering="crispEdges"/>
<polyline points="1120.5,1231.0 1120.5,1162.4 1124.5,1127.9 1128.8,1153.8 1132.2,1136.5 1133.9,1162.4 1135.7,1102.1 1139.1,1076.3 1145.1,1036.7 1149.4,1057.4 1158.0,1029.8 1161.5,1053.9 1166.6,1047.0 1170.1,1076.3 1175.2,1093.5 1180.4,1110.7 1185.6,1127.9 1192.5,1136.5 1199.3,1141.7 1207.9,1133.1 1216.5,1127.9 1226.9,1129.7 1235.5,1143.4 1242.4,1136.5 1252.7,1143.4 1261.3,1138.3 1266.5,1150.3 1273.3,1162.4 1280.2,1183.0 1292.3,1176.1 1298.6,1192.9 1307.1,1214.3 1312.9,1235.7 1320.0,1252.9 1327.1,1271.4 1332.9,1285.7 1341.4,1304.3 1348.6,1321.4 1355.7,1338.6 1361.0,1349.0 1370.0,1328.6 1375.7,1307.1 1381.4,1290.0 1388.6,1278.6 1395.7,1267.1 1400.0,1264.3 1411.4,1244.3 1428.6,1237.1 1442.9,1234.3 1457.1,1222.9 1471.4,1212.9 1482.9,1208.6 1500.0,1214.3 1528.6,1217.1 1557.1,1215.7 1578.6,1211.4 1590.0,1221.4 1600.0,1217.1 1614.3,1211.4 1628.6,1201.4 1642.9,1194.3 1657.1,1180.0 1671.4,1168.6 1685.7,1164.3 1704.8,1157.6 1719.5,1150.9 1734.3,1147.2 1752.0,1151.7 1771.2,1148.7 1800.7,1151.7 1837.6,1155.4 1867.1,1157.6 1911.4,1159.0 1955.7,1159.0 1970.5,1162.0 1992.6,1167.9" fill="none" stroke="#000000" stroke-width="10.5" stroke-linejoin="round" stroke-linecap="round" shape-rendering="crispEdges"/>
</g>
<g fill="#404040" style="font-family:'Liberation Sans',Arial,Helvetica,sans-serif;font-size:64px">
<text x="1120.5" y="1526" text-anchor="middle">100</text>
<text x="1295.3" y="1526" text-anchor="middle">200</text>
<text x="1470.1" y="1526" text-anchor="middle">300</text>
<text x="1644.9" y="1526" text-anchor="middle">400</text>
<text x="1819.7" y="1526" text-anchor="middle">500</text>
<text x="1994.5" y="1526" text-anchor="middle">600</text>
<text x="1092.7" y="1466.2" text-anchor="end">-1</text>
<text x="1099.3" y="1204.5" text-anchor="end">0</text>
<text x="1099.3" y="942.9" text-anchor="end">1</text>
</g>
<rect x="552" y="144.6" width="415.4" height="440.69999999999993" fill="#fff" stroke="#404040" stroke-width="2.4"/>
<line x1="567" y1="187.0" x2="686" y2="187.0" stroke="#ff0000" stroke-width="8"/>
<text x="698" y="207.0" fill="#000" style="font-family:'Liberation Sans',Arial,Helvetica,sans-serif;font-size:55.6px">Scheme 1</text>
<line x1="567" y1="258.2" x2="686" y2="258.2" stroke="#00ff00" stroke-width="8"/>
<text x="698" y="278.2" fill="#000" style="font-family:'Liberation Sans',Arial,Helvetica,sans-serif;font-size:55.6px">Scheme 2</text>
<line x1="567" y1="329.5" x2="686" y2="329.5" stroke="#0000ff" stroke-width="8"/>
<text x="698" y="349.5" fill="#000" style="font-family:'Liberation Sans',Arial,Helvetica,sans-serif;font-size:55.6px">Scheme 3</text>
<line x1="567" y1="400.8" x2="686" y2="400.8" stroke="#00ffff" stroke-width="8"/>
<text x="698" y="420.8" fill="#000" style="font-family:'Liberation Sans',Arial,Helvetica,sans-serif;font-size:55.6px">Scheme 4</text>
<line x1="567" y1="472.0" x2="686" y2="472.0" stroke="#ff00ff" stroke-width="8"/>
<text x="698" y="492.0" fill="#000" style="font-family:'Liberation Sans',Arial,Helvetica,sans-serif;font-size:55.6px">Scheme 5</text>
<line x1="567" y1="543.2" x2="686" y2="543.2" stroke="#000000" stroke-width="8"/>
<text x="698" y="563.2" fill="#000" style="font-family:'Liberation Sans',Arial,Helvetica,sans-serif;font-size:55.6px">Scheme 6</text>
</svg>
</body></html>
